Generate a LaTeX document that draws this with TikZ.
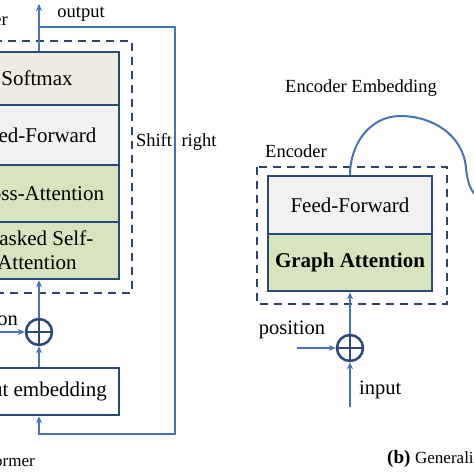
\documentclass[tikz,border=0pt]{standalone}
\usepackage{fontspec}
\setmainfont{Liberation Serif}
\usetikzlibrary{arrows.meta}
\definecolor{connc}{RGB}{70,116,182}
\definecolor{bord}{RGB}{42,72,120}
\definecolor{dashcol}{RGB}{45,68,105}
\definecolor{tanfill}{RGB}{238,236,225}
\definecolor{greyfill}{RGB}{241,241,241}
\definecolor{greenfill}{RGB}{216,228,189}
\tikzset{
  blk/.style={draw=bord, line width=2.5pt, minimum width=164pt, inner sep=0pt, font=\fontsize{21}{24}\selectfont, align=center},
  lbl/.style={font=\fontsize{18.5}{22}\selectfont, inner sep=0pt},
  lblb/.style={font=\fontsize{20.5}{24}\selectfont, inner sep=0pt},
  connl/.style={draw=connc, line width=2pt},
  arr/.style={connl, -{Stealth[length=7pt,width=6pt]}},
  grp/.style={draw=dashcol, line width=2.5pt, dash pattern=on 8pt off 6pt},
  sumc/.style={circle, draw=bord, line width=2.5pt, minimum size=26pt, inner sep=0pt},
}
\begin{document}
\begin{tikzpicture}[x=1pt,y=-1pt]
\useasboundingbox (0,0) rectangle (474,474);
\clip (0,0) rectangle (474,474);
% ---------- left: decoder ----------
\draw[grp] (-60,41) rectangle (132,293);
\node[blk, fill=tanfill, minimum height=53pt] (sm) at (37,78.5) {Softmax};
\node[blk, fill=greyfill, minimum height=60pt] (ff1) at (37,135) {Feed-Forward};
\node[blk, fill=greenfill, minimum height=57pt] (ca) at (37,193.5) {Cross-Attention};
\node[blk, fill=greenfill, minimum height=57pt] (ma) at (37,250.5) {Masked Self-\\Attention};
\node[blk, fill=white, minimum width=181pt, minimum height=47pt] (emb) at (28.5,391.5) {Output embedding};
\node[sumc] (s1) at (39,332) {};
\draw[bord, line width=2pt] (s1.north) -- (s1.south) (s1.west) -- (s1.east);
\coordinate (outc) at (39,4);
\coordinate (fb) at (39,27);
\coordinate (c1) at (175,27);
\coordinate (c2) at (175,434);
\coordinate (c3) at (39,434);
\coordinate (pl) at (-20,332);
\draw[arr] (s1|-sm.north) -- (outc);
\draw[arr] (fb) -- (c1) -- (c2) -- (c3) -- (s1|-emb.south);
\draw[arr] (s1|-emb.north) -- (s1.south);
\draw[arr] (s1.north) -- (s1|-ma.south);
\draw[arr] (pl) -- (s1.west);
\node[lbl, anchor=base] (outl) at (81,17) {output};
\node[lbl, anchor=base] (shl) at (154,146) {Shift};
\node[lbl, anchor=base] (rtl) at (199,146) {right};
\node[lbl, anchor=base east] (decl) at (8,25) {Decoder};
\node[lblb, anchor=base east] (posl) at (18,325) {position};
\node[lbl, anchor=base east, font=\fontsize{17}{20}\selectfont] (capa) at (35,466) {\textbf{(a)} Transformer};
% ---------- right: encoder ----------
\node[lbl, anchor=base] (eel) at (361,92) {Encoder Embedding};
\node[lbl, anchor=base west] (encl) at (265,157) {Encoder};
\draw[grp] (257,167) rectangle (447,304);
\node[blk, fill=greyfill, minimum height=58pt] (ff2) at (350,205) {Feed-Forward};
\node[blk, fill=greenfill, minimum height=57pt] (ga) at (350,262.5) {\textbf{Graph Attention}};
\node[sumc] (s2) at (350,348) {};
\draw[bord, line width=2pt] (s2.north) -- (s2.south) (s2.west) -- (s2.east);
\coordinate (inp) at (350,407);
\coordinate (pr) at (297,348);
\draw[arr] (s2.north) -- (ga.south);
\draw[arr] (inp) -- (s2.south);
\draw[arr] (pr) -- (s2.west);
\node[lblb, anchor=base] (posr) at (292,334) {position};
\node[lblb, anchor=base west] (inl) at (359,394) {input};
\coordinate (k1) at (400,116);
\coordinate (k2) at (466,168);
\coordinate (ce) at (486,198);
\draw[connl] (ff2.north) to[out=90,in=180] (k1) to[out=0,in=95] (k2) to[out=-85,in=190] (ce);
\node[anchor=base west, inner sep=0pt] (capb) at (387,463) {\fontsize{19}{22}\selectfont\textbf{(b)} \fontsize{17}{20}\selectfont Generalized Transformer};
\end{tikzpicture}
\end{document}
